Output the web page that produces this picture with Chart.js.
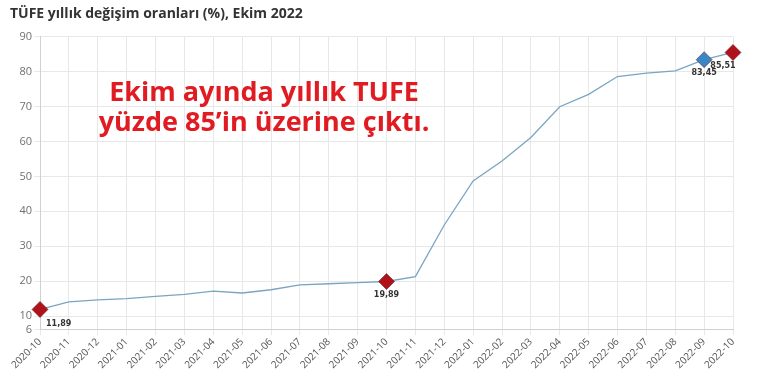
<!DOCTYPE html>
<html>
<head>
<meta charset="utf-8">
<script src="https://cdn.jsdelivr.net/npm/chart.js@4.4.0/dist/chart.umd.min.js"></script>
<style>
  html, body { margin: 0; padding: 0; background: #fff; }
  #wrap { width: 768px; height: 391px; position: relative; }
</style>
</head>
<body>
<div id="wrap"><canvas id="cpiChart"></canvas></div>
<script>
// monthly labels
const months = [
  '2020-10', '2020-11', '2020-12', '2021-01', '2021-02', '2021-03', '2021-04',
  '2021-05', '2021-06', '2021-07', '2021-08', '2021-09', '2021-10', '2021-11',
  '2021-12', '2022-01', '2022-02', '2022-03', '2022-04', '2022-05', '2022-06',
  '2022-07', '2022-08', '2022-09', '2022-10'
];

// annual CPI change (%)
const cpiValues = [
  11.89, 14.03, 14.60, 14.97, 15.61, 16.19, 17.14,
  16.59, 17.53, 18.95, 19.25, 19.58, 19.89, 21.31,
  36.08, 48.69, 54.44, 61.14, 69.97, 73.50, 78.62,
  79.60, 80.21, 83.45, 85.51
];

// y axis tick values
const yTicks = [6, 10, 20, 30, 40, 50, 60, 70, 80, 90];

// points that get a diamond marker and a value label
const markedRed = ['2020-10', '2021-10', '2022-10'];
const markedBlue = ['2022-09'];

const titleText = 'TÜFE yıllık değişim oranları (%), Ekim 2022';
const noteLines = ['Ekim ayında yıllık TUFE', 'yüzde 85’in üzerine çıktı.'];

const RED = '#b0121c';
const BLUE = '#3b86c6';

function markerColor(i) {
  const m = months[i];
  if (markedBlue.includes(m)) return BLUE;
  if (markedRed.includes(m)) return RED;
  return 'transparent';
}
function isMarked(i) {
  return markedRed.includes(months[i]) || markedBlue.includes(months[i]);
}

// value labels under the marked points
const valueLabels = {
  id: 'valueLabels',
  afterDatasetsDraw(chart) {
    const { ctx } = chart;
    const meta = chart.getDatasetMeta(0);
    ctx.save();
    ctx.font = 'bold 8px "DejaVu Sans", Arial, sans-serif';
    ctx.fillStyle = '#333';
    ctx.textBaseline = 'middle';
    meta.data.forEach((pt, i) => {
      if (!isMarked(i)) return;
      const txt = cpiValues[i].toFixed(2).replace('.', ',');
      if (i === 0) {
        ctx.textAlign = 'left';
        ctx.fillText(txt, pt.x + 6, pt.y + 14);
      } else if (i === months.length - 1) {
        ctx.textAlign = 'center';
        ctx.fillText(txt, pt.x - 10, pt.y + 13);
      } else {
        ctx.textAlign = 'center';
        ctx.fillText(txt, pt.x, pt.y + 13);
      }
    });
    ctx.restore();
  }
};

// big red note in the upper left of the plot
const notePlugin = {
  id: 'note',
  afterDraw(chart) {
    const { ctx, chartArea } = chart;
    ctx.save();
    ctx.font = 'bold 27px "Open Sans", sans-serif';
    ctx.fillStyle = '#e01b22';
    ctx.textAlign = 'center';
    ctx.textBaseline = 'middle';
    const cx = chartArea.left + 224;
    ctx.fillText(noteLines[0], cx, chartArea.top + 57);
    ctx.fillText(noteLines[1], cx, chartArea.top + 87);
    ctx.restore();
  }
};

new Chart(document.getElementById('cpiChart'), {
  type: 'line',
  data: {
    labels: months,
    datasets: [{
      data: cpiValues,
      borderColor: '#7aa5c2',
      borderWidth: 1.3,
      tension: 0,
      pointStyle: 'rectRot',
      pointRadius: (c) => isMarked(c.dataIndex) ? 8 : 0,
      pointHoverRadius: 0,
      pointBackgroundColor: (c) => markerColor(c.dataIndex),
      pointBorderColor: (c) => isMarked(c.dataIndex) ? 'rgba(90,20,20,0.5)' : 'transparent',
      pointBorderWidth: 1
    }]
  },
  options: {
    responsive: true,
    maintainAspectRatio: false,
    animation: false,
    layout: { padding: { left: 10, right: 35, top: 2, bottom: 19 } },
    plugins: {
      legend: { display: false },
      tooltip: { enabled: false },
      title: {
        display: true,
        text: titleText,
        align: 'start',
        color: '#333',
        font: { family: '"Open Sans", sans-serif', size: 14, weight: 'bold' },
        padding: { top: 4, bottom: 14 }
      }
    },
    scales: {
      x: {
        offset: false,
        grid: { color: '#e8e8e8', tickLength: 5, drawTicks: true },
        border: { color: '#d0d0d0' },
        ticks: {
          color: '#555',
          font: { family: '"Open Sans", sans-serif', size: 10 },
          maxRotation: 45,
          minRotation: 45,
          autoSkip: false,
          padding: 1
        }
      },
      y: {
        min: 6,
        max: 90,
        afterBuildTicks: (axis) => { axis.ticks = yTicks.map(v => ({ value: v })); },
        afterFit: (axis) => { axis.width = 30; },
        grid: { color: '#e8e8e8', tickLength: 6 },
        border: { color: '#d0d0d0' },
        ticks: {
          color: '#707070',
          font: { family: '"Open Sans", sans-serif', size: 11 },
          padding: 2
        }
      }
    }
  },
  plugins: [valueLabels, notePlugin]
});
</script>
</body>
</html>
